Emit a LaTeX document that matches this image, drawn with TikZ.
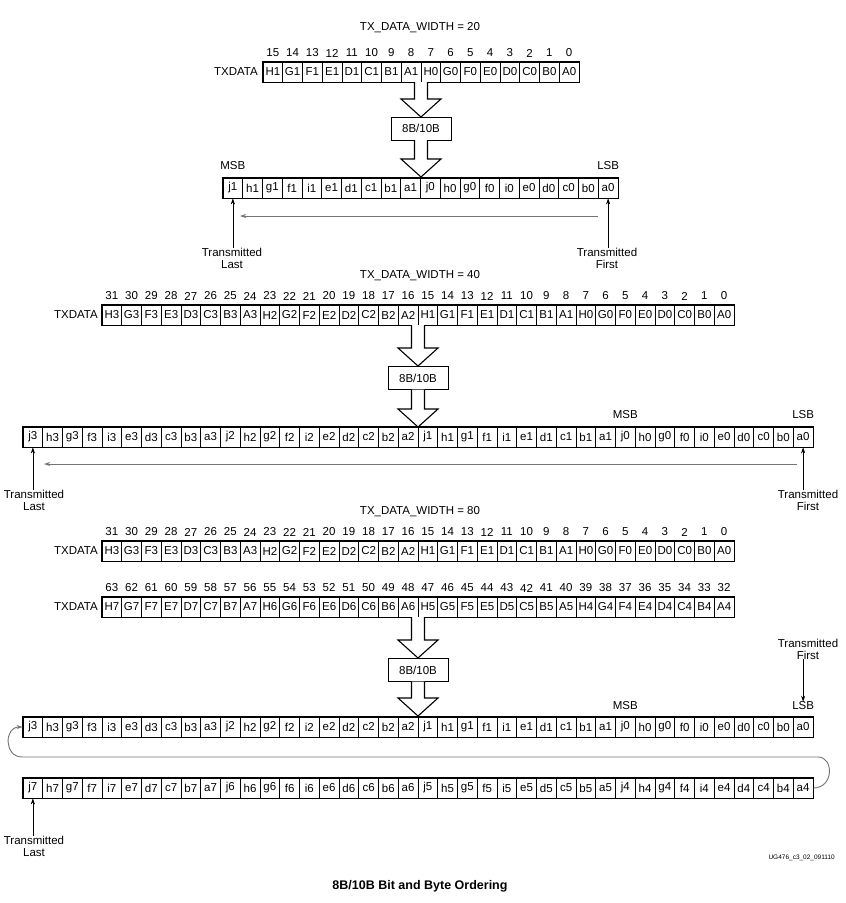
\documentclass[tikz,border=0pt]{standalone}
\usepackage{fontspec}
\setmainfont{Liberation Sans}
\usetikzlibrary{arrows.meta}
\def\cw{19.75}
\tikzset{
 cell/.style={draw, line width=0.7pt, minimum width=19.75pt, minimum height=20pt, inner sep=0pt, font=\fontsize{11.5}{12}\selectfont},
 num/.style={inner sep=0pt, font=\fontsize{11.5}{12}\selectfont},
 lbl/.style={inner sep=0pt, font=\fontsize{11.5}{12}\selectfont, align=center},
 tip/.style={-{Stealth[length=6pt,width=4pt]}, line width=0.6pt},
 grayarr/.style={-{Stealth[length=6pt,width=4pt]}, line width=0.9pt, draw=black!55},
 codec/.style={draw, line width=1pt, minimum width=60pt, minimum height=23pt, inner sep=0pt, font=\fontsize{11.5}{12}\selectfont},
 hollow/.style={line width=1.1pt, fill=white}
}
\newcommand\txrow[5]{% name, left, ycenter, byte list, top number
 \foreach \b [count=\k] in {#4}{
  \foreach \L [count=\m] in {H,G,F,E,D,C,B,A}{
   \pgfmathtruncatemacro\idx{(\k-1)*8+\m}
   \pgfmathtruncatemacro\num{#5-\idx+1}
   \node[cell] (#1-\idx) at ({#2+(\idx-0.5)*\cw},#3) {\L\b};
   \node[num] (#1n-\idx) at ({#2+(\idx-0.5)*\cw},#3-19) {\num};
  }}
}
\newcommand\bitsrow[4]{% name, left, ycenter, byte list
 \foreach \b [count=\k] in {#4}{
  \foreach \L [count=\m] in {j,h,g,f,i,e,d,c,b,a}{
   \pgfmathtruncatemacro\idx{(\k-1)*10+\m}
   \node[cell] (#1-\idx) at ({#2+(\idx-0.5)*\cw},#3) {\L\b};
  }}
}
\newcommand\hollowarrow[3]{% x, ytop, ytip
 \draw[hollow] (#1-6.5,#2) -- (#1-6.5,{#3-18}) -- (#1-20,{#3-18}) -- (#1,#3) -- (#1+20,{#3-18}) -- (#1+6.5,{#3-18}) -- (#1+6.5,#2);
}
\begin{document}
\begin{tikzpicture}[x=1pt,y=-1pt]
\useasboundingbox (0,0) rectangle (846,903);
% ---------------- Section 1
\node[lbl] (title1) at (420,28) {TX\_DATA\_WIDTH = 20};
\txrow{ta}{263}{72}{1,0}{15}
\draw[line width=1.1pt] (ta-1.north west) rectangle (ta-16.south east);
\node[lbl, anchor=east] (txl1) at (258,72) {TXDATA};
\hollowarrow{421}{82}{117}
\node[codec] (c1) at (421,128.5) {8B/10B};
\hollowarrow{421}{140}{177}
\bitsrow{ba}{223}{188}{1,0}
\draw[line width=1.1pt] (ba-1.north west) rectangle (ba-20.south east);
\node[lbl] (msb1) at (ba-1.north |- 0,166) {MSB};
\node[lbl] (lsb1) at (ba-20.north |- 0,166) {LSB};
\node[lbl] (last1) at (232,258) {Transmitted\\Last};
\node[lbl] (first1) at (607,258) {Transmitted\\First};
\draw[tip] (last1.north -| ba-1) -- (ba-1.south);
\draw[tip] (first1.north -| ba-20) -- (ba-20.south);
\coordinate (h1a) at (598,216);
\coordinate (h1b) at (240,216);
\draw[grayarr] (h1a) -- (h1b);
% ---------------- Section 2
\node[lbl] (title2) at (420,276) {TX\_DATA\_WIDTH = 40};
\txrow{tb}{102}{315}{3,2,1,0}{31}
\draw[line width=1.1pt] (tb-1.north west) rectangle (tb-32.south east);
\node[lbl, anchor=east] (txl2) at (98,315) {TXDATA};
\hollowarrow{418}{325}{366}
\node[codec] (c2) at (418,378) {8B/10B};
\hollowarrow{418}{389.5}{427}
\bitsrow{bb}{23}{437}{3,2,1,0}
\draw[line width=1.1pt] (bb-1.north west) rectangle (bb-40.south east);
\node[lbl] (msb2) at (bb-31.north |- 0,415) {MSB};
\node[lbl] (lsb2) at (bb-40.north |- 0,415) {LSB};
\node[lbl] (last2) at (34,500) {Transmitted\\Last};
\node[lbl] (first2) at (808,500) {Transmitted\\First};
\draw[tip] (last2.north -| bb-1) -- (bb-1.south);
\draw[tip] (first2.north -| bb-40) -- (bb-40.south);
\coordinate (h2a) at (797,464);
\coordinate (h2b) at (44,464);
\draw[grayarr] (h2a) -- (h2b);
% ---------------- Section 3
\node[lbl] (title3) at (420,512) {TX\_DATA\_WIDTH = 80};
\txrow{tc}{102}{551}{3,2,1,0}{31}
\draw[line width=1.1pt] (tc-1.north west) rectangle (tc-32.south east);
\node[lbl, anchor=east] (txl3) at (98,551) {TXDATA};
\txrow{td}{102}{607}{7,6,5,4}{63}
\draw[line width=1.1pt] (td-1.north west) rectangle (td-32.south east);
\node[lbl, anchor=east] (txl4) at (98,607) {TXDATA};
\hollowarrow{418}{617}{658}
\node[codec] (c3) at (418,670) {8B/10B};
\hollowarrow{418}{681.5}{716}
\bitsrow{bc}{23}{727}{3,2,1,0}
\draw[line width=1.1pt] (bc-1.north west) rectangle (bc-40.south east);
\bitsrow{bd}{23}{788}{7,6,5,4}
\draw[line width=1.1pt] (bd-1.north west) rectangle (bd-40.south east);
\node[lbl] (msb3) at (bc-31.north |- 0,706) {MSB};
\node[lbl] (lsb3) at (bc-40.north |- 0,706) {LSB};
\node[lbl] (first3) at (808,649) {Transmitted\\First};
\draw[tip] (first3.south -| bc-40) -- (lsb3.north);
\node[lbl] (last3) at (34,846) {Transmitted\\Last};
\draw[tip] (last3.north -| bd-1) -- (bd-1.south);
\draw[grayarr] (bd-40.east) .. controls (834,788) and (834,757) .. (818,757) -- (22,757) .. controls (4,757) and (4,727) .. (bc-1.west);
% ---------------- Footer
\node[inner sep=0pt, anchor=east, font=\fontsize{6.5}{7}\selectfont] (code) at (835,858) {UG476\_c3\_02\_091110};
\node[inner sep=0pt, font=\bfseries\fontsize{12.5}{14}\selectfont] (cap) at (420,886) {8B/10B Bit and Byte Ordering};
\end{tikzpicture}
\end{document}
